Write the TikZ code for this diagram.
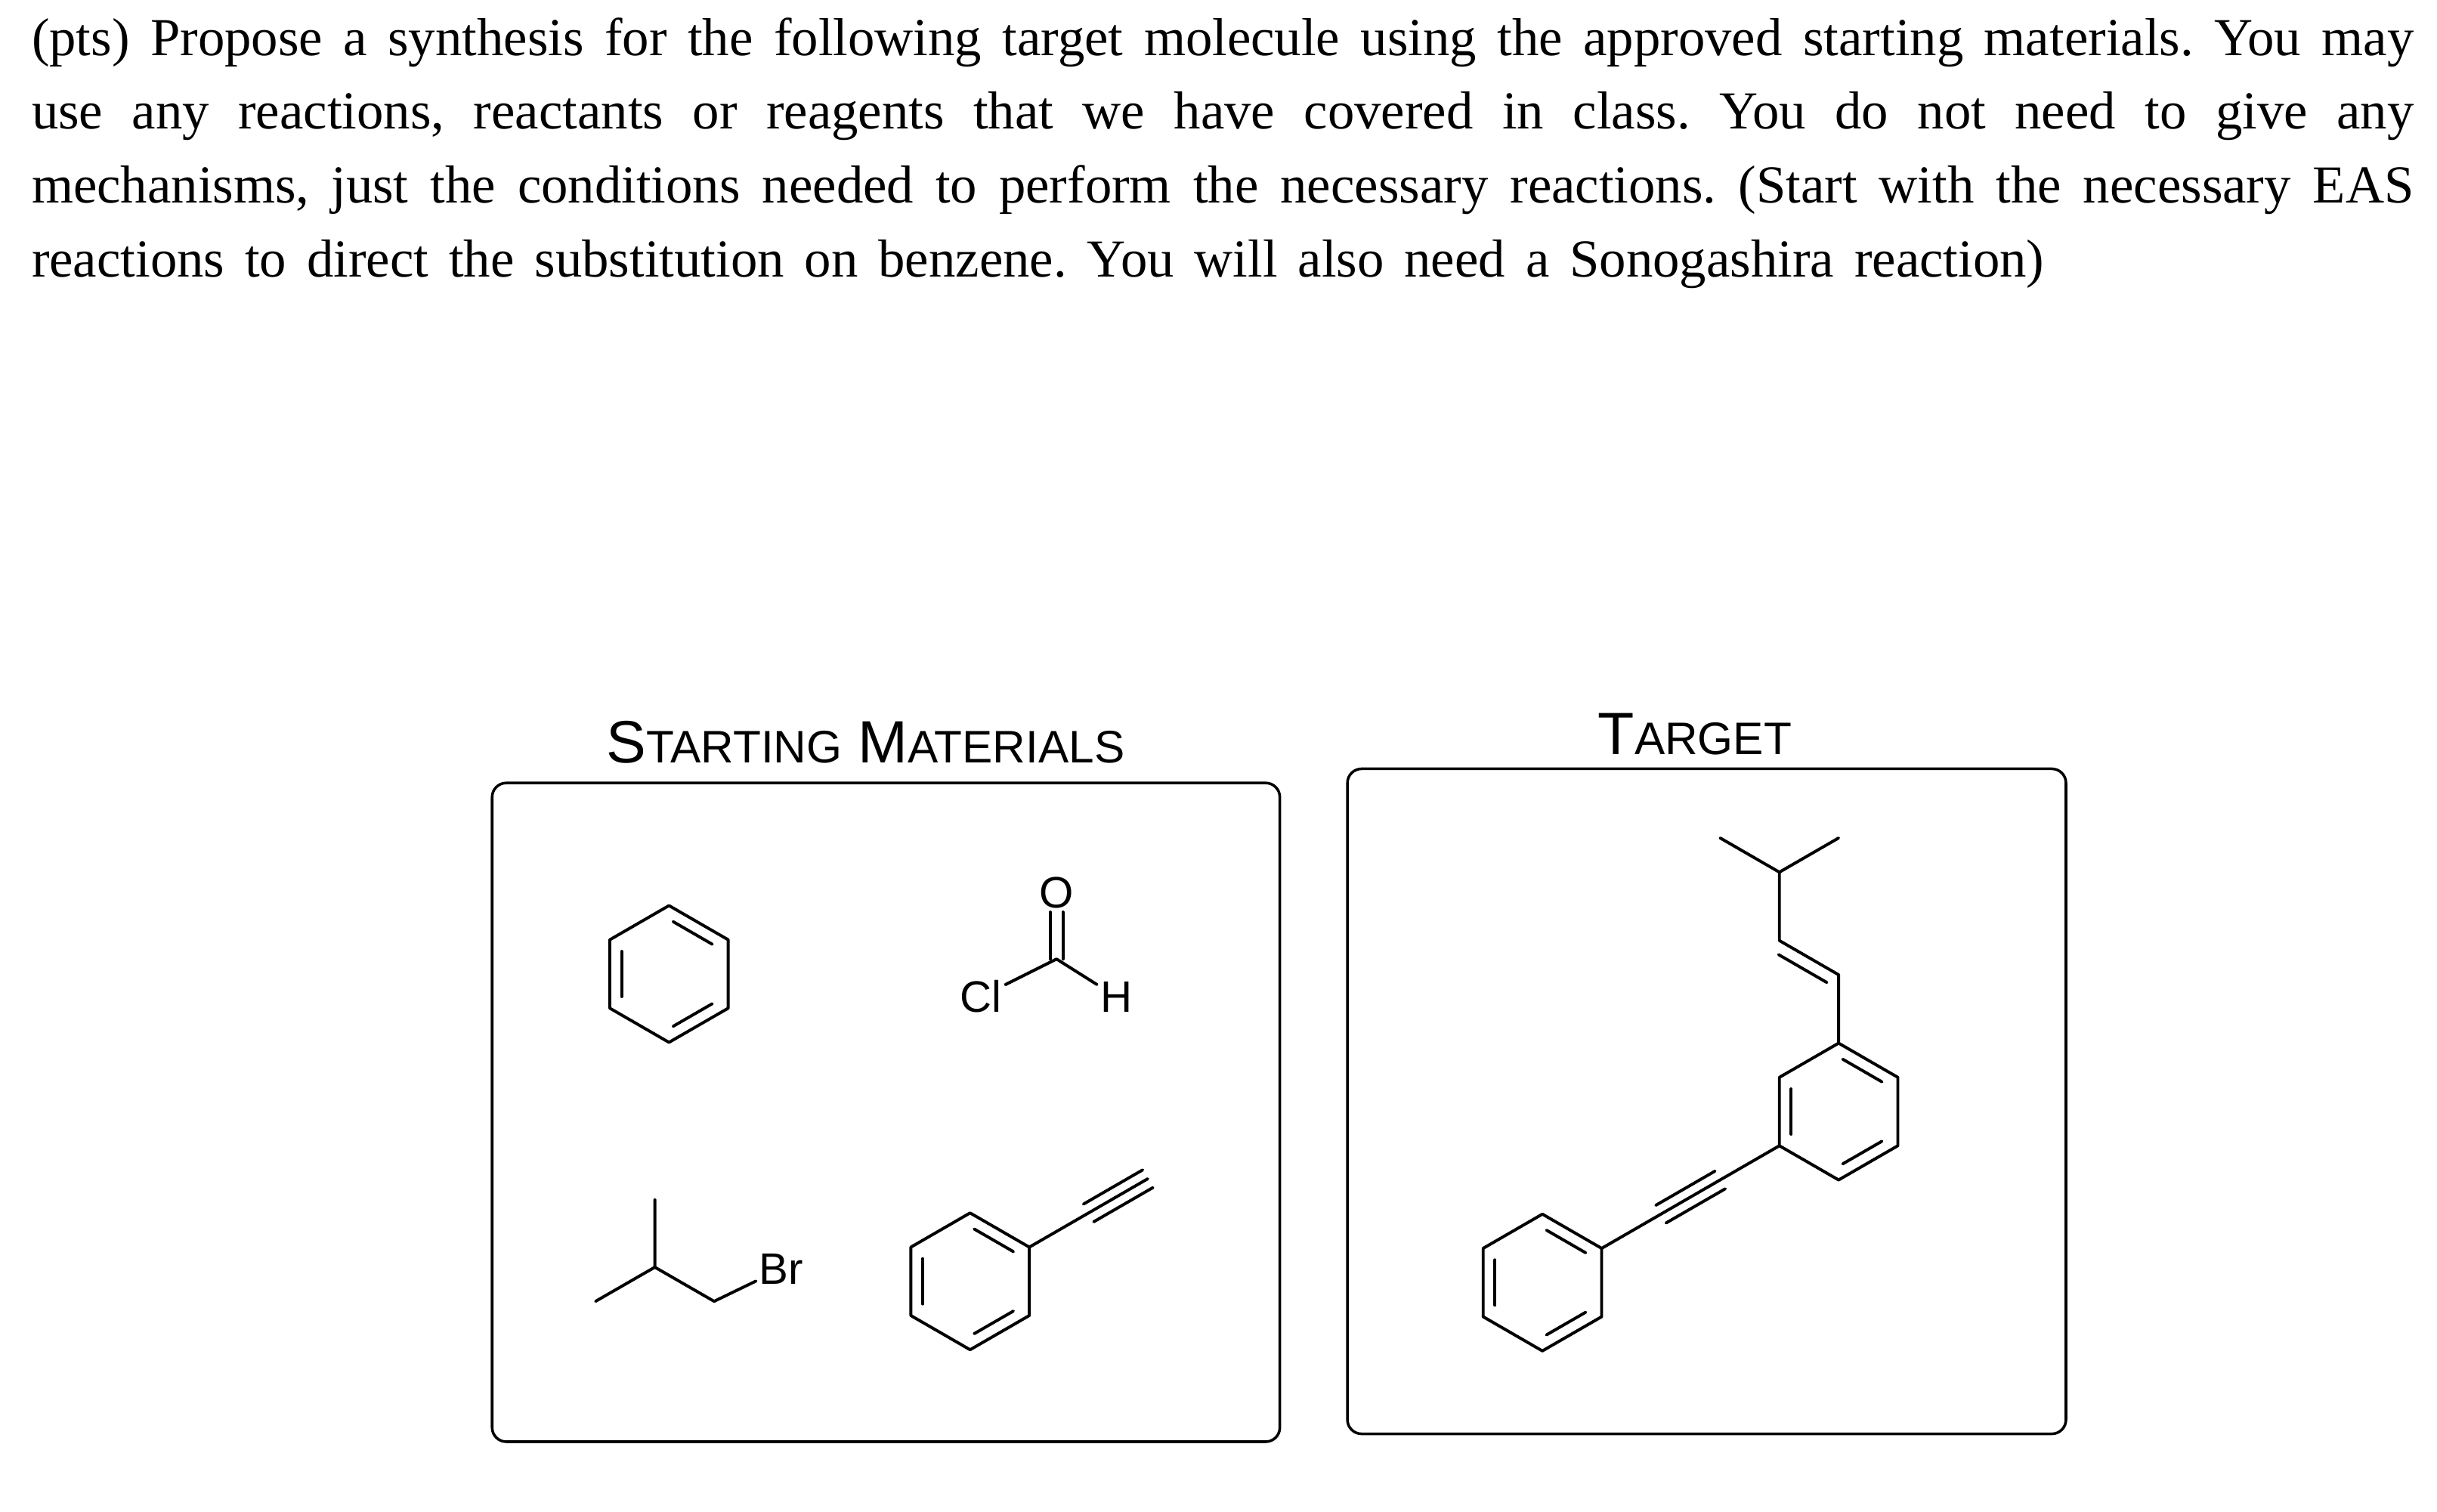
\documentclass[tikz,border=0pt]{standalone}
\usepackage{fontspec}
\setmainfont{Liberation Serif}
\newfontfamily\hel{Liberation Sans}
\usetikzlibrary{calc}
\tikzset{bond/.style={line width=1.9pt,line cap=round,line join=round},
 frame/.style={line width=1.7pt,rounded corners=9pt},
 atom/.style={font=\hel\fontsize{28}{30}\selectfont,inner sep=2pt},
 hdr/.style={anchor=base,inner sep=0pt}}
\newcommand\benz[3]{%
 \coordinate (#3) at (#1,#2);
 \foreach \i/\a in {1/270,2/330,3/30,4/90,5/150,6/210}
   \coordinate (#3-\i) at ($(#3)+(\a:43.5)$);
 \draw[bond] (#3-1)--(#3-2)--(#3-3)--(#3-4)--(#3-5)--(#3-6)--cycle;
 \foreach \p/\q in {1/2,3/4,5/6}
   \draw[bond,shorten <=3pt,shorten >=3pt] ($(#3)!0.8!(#3-\p)$) -- ($(#3)!0.8!(#3-\q)$);
}
\newcommand\hsc[1]{{\fontsize{38}{40}\selectfont #1}}
\newcommand\lsc[1]{{\fontsize{29}{30}\selectfont #1}}
\begin{document}
\begin{tikzpicture}[x=1pt,y=-1pt]
\useasboundingbox (0,0) rectangle (1550,961.7);
\node[anchor=north west,inner sep=0pt,text width=1515pt,align=justify,font=\fontsize{34}{47}\selectfont] (q) at (20,11)
{\frenchspacing\spaceskip=0.22em plus 0.3em minus 0.12em
(pts) Propose a synthesis for the following target molecule using the approved starting materials. You may\linebreak
use any reactions, reactants or reagents that we have covered in class. You do not need to give any\linebreak
mechanisms, just the conditions needed to perform the necessary reactions. (Start with the necessary EAS\linebreak
\makebox[1280pt][s]{reactions to direct the substitution on benzene. You will also need a Sonogashira reaction)}};

\node[hdr,font=\hel] (h1) at (550.5,485) {\hsc{S}\lsc{TARTING}\hspace{10pt}\hsc{M}\lsc{ATERIALS}};
\node[hdr,font=\hel] (h2) at (1078,480) {\hsc{T}\lsc{ARGET}};
\draw[frame] (313,498) rectangle (814,917);
\draw[frame] (857,489) rectangle (1314,912);

% benzene
\benz{425.5}{619.5}{B}
% formyl chloride
\coordinate (C) at (672,610);
\node[atom] (O) at (672,568) {O};
\node[atom] (Cl) at (624,634) {Cl};
\node[atom] (H) at (710,634) {H};
\draw[bond] ([xshift=-4pt]C) -- ([xshift=-4pt]O.south);
\draw[bond] ([xshift=4pt]C) -- ([xshift=4pt]O.south);
\draw[bond] (C) -- (Cl);
\draw[bond] (C) -- (H);
% isobutyl bromide
\coordinate (i1) at (416.5,763);
\coordinate (i2) at (416.5,806);
\coordinate (i3) at (378.8,827.7);
\coordinate (i4) at (454.2,827.7);
\node[atom] (Br) at (497,807) {Br};
\draw[bond] (i1) -- (i2) -- (i3);
\draw[bond] (i2) -- (i4) -- (Br);
% phenylacetylene
\benz{617}{815}{P}
\coordinate (pa) at ($(P-2)+(330:43.5)$);
\coordinate (pb) at ($(pa)+(330:43.5)$);
\draw[bond] (P-2) -- (pb);
\draw[bond] ([shift={(60:6.5)}]pa) -- ([shift={(60:6.5)}]pb);
\draw[bond] ([shift={(240:6.5)}]pa) -- ([shift={(240:6.5)}]pb);

% target
\benz{1169.4}{707}{T}
\coordinate (ca) at ($(T-1)+(270:43.5)$);
\coordinate (cb) at ($(ca)+(210:43.5)$);
\coordinate (cc) at ($(cb)+(270:43.5)$);
\coordinate (m1) at ($(cc)+(210:43.5)$);
\coordinate (m2) at ($(cc)+(330:43.5)$);
\draw[bond] (T-1) -- (ca) -- (cb) -- (cc) -- (m1);
\draw[bond] (cc) -- (m2);
\draw[bond,shorten <=4pt,shorten >=4pt] ([shift={(120:8)}]cb) -- ([shift={(120:8)}]ca);
\coordinate (ta) at ($(T-5)+(150:43.5)$);
\coordinate (tb) at ($(ta)+(150:43.5)$);
\coordinate (td) at ($(tb)+(150:43.5)$);
\draw[bond] (T-5) -- (td);
\draw[bond] ([shift={(60:6.5)}]ta) -- ([shift={(60:6.5)}]tb);
\draw[bond] ([shift={(240:6.5)}]ta) -- ([shift={(240:6.5)}]tb);
\benz{981}{815.75}{Q}
\end{tikzpicture}
\end{document}
